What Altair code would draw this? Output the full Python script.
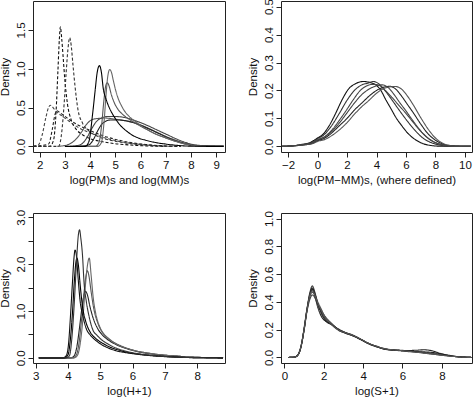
import altair as alt
import pandas as pd

FONT = "Liberation Sans"

# ---------------- Panel 1: log(PM)s (solid) and log(MM)s (dashed) ----------------
mm1_x = [1.75, 2.4, 2.55, 2.65, 2.72, 2.78, 2.82, 2.87, 2.93, 3.0, 3.1, 3.25, 3.45, 3.7, 4.0, 4.5, 5.0, 5.6, 6.3, 7.0]
mm1_y = [0, 0.0, 0.08, 0.45, 0.95, 1.38, 1.54, 1.40, 1.15, 0.85, 0.55, 0.34, 0.22, 0.15, 0.10, 0.06, 0.035, 0.018, 0.006, 0]
mm2_x = [1.75, 2.75, 2.88, 2.97, 3.05, 3.12, 3.19, 3.25, 3.32, 3.4, 3.52, 3.7, 3.95, 4.3, 4.8, 5.4, 6.0, 6.8, 7.5]
mm2_y = [0, 0.0, 0.2, 0.55, 0.95, 1.25, 1.40, 1.30, 1.05, 0.78, 0.47, 0.30, 0.20, 0.13, 0.08, 0.045, 0.022, 0.006, 0]
mm3_x = [1.75, 1.95, 2.1, 2.25, 2.35, 2.42, 2.5, 2.65, 2.85, 3.1, 3.4, 3.8, 4.3, 4.8, 5.4, 6.0, 6.7, 7.3]
mm3_y = [0, 0.02, 0.15, 0.38, 0.50, 0.53, 0.51, 0.45, 0.40, 0.34, 0.27, 0.2, 0.14, 0.09, 0.05, 0.025, 0.008, 0]
mm4_x = [1.75, 2.35, 2.5, 2.6, 2.68, 2.78, 2.95, 3.2, 3.5, 3.9, 4.4, 4.9, 5.5, 6.2, 7.0, 7.6]
mm4_y = [0, 0.03, 0.22, 0.40, 0.46, 0.44, 0.40, 0.34, 0.28, 0.22, 0.15, 0.1, 0.055, 0.025, 0.006, 0]

pm1_x = [3.0, 3.8, 3.95, 4.1, 4.2, 4.28, 4.37, 4.45, 4.52, 4.62, 4.72, 4.85, 5.0, 5.2, 5.4, 5.65, 5.9, 6.2, 6.6, 7.0, 7.5, 8.0, 9.3]
pm1_y = [0, 0, 0.06, 0.42, 0.72, 0.95, 1.04, 0.95, 0.75, 0.62, 0.53, 0.44, 0.36, 0.27, 0.21, 0.15, 0.11, 0.08, 0.05, 0.03, 0.012, 0.003, 0]
pm2_x = [3.5, 4.3, 4.45, 4.55, 4.63, 4.7, 4.78, 4.85, 4.92, 5.0, 5.1, 5.25, 5.4, 5.6, 5.8, 6.05, 6.3, 6.6, 7.0, 7.4, 7.8, 8.3, 9.3]
pm2_y = [0, 0, 0.05, 0.3, 0.65, 0.9, 0.99, 0.95, 0.85, 0.74, 0.63, 0.52, 0.44, 0.37, 0.32, 0.26, 0.21, 0.16, 0.11, 0.065, 0.03, 0.008, 0]
pm3_x = [3.5, 4.2, 4.35, 4.45, 4.55, 4.62, 4.68, 4.75, 4.84, 4.95, 5.1, 5.3, 5.5, 5.75, 6.0, 6.3, 6.6, 7.0, 7.4, 7.8, 8.2, 9.3]
pm3_y = [0, 0, 0.05, 0.25, 0.6, 0.78, 0.82, 0.78, 0.67, 0.57, 0.48, 0.41, 0.36, 0.31, 0.26, 0.21, 0.16, 0.11, 0.065, 0.03, 0.01, 0]
pm4_x = [2.7, 3.1, 3.4, 3.65, 3.85, 4.05, 4.3, 4.6, 5.0, 5.4, 5.8, 6.2, 6.6, 7.0, 7.4, 7.8, 8.2, 8.6, 9.3]
pm4_y = [0, 0.02, 0.08, 0.18, 0.28, 0.34, 0.36, 0.365, 0.35, 0.33, 0.3, 0.25, 0.19, 0.13, 0.08, 0.04, 0.015, 0.004, 0]
pm5_x = [3.2, 3.6, 3.85, 4.05, 4.25, 4.45, 4.7, 5.0, 5.4, 5.8, 6.2, 6.6, 7.0, 7.4, 7.8, 8.2, 9.3]
pm5_y = [0, 0.02, 0.1, 0.22, 0.32, 0.365, 0.385, 0.385, 0.37, 0.33, 0.28, 0.22, 0.16, 0.1, 0.05, 0.017, 0]
pm6_x = [3.6, 3.95, 4.15, 4.3, 4.45, 4.6, 4.8, 5.1, 5.5, 5.9, 6.3, 6.7, 7.1, 7.5, 7.9, 8.3, 9.3]
pm6_y = [0, 0.02, 0.1, 0.2, 0.28, 0.32, 0.34, 0.34, 0.325, 0.285, 0.23, 0.17, 0.11, 0.06, 0.025, 0.007, 0]

# ---------------- Panel 2: log(PM-MM)s ----------------
d_a_x = [-2.4, -2, -1.2, -0.5, 0, 0.3, 0.8, 1.2, 1.6, 2.1, 2.6, 3.1, 3.6, 3.95, 4.3, 4.6, 5.0, 5.3, 5.7, 6.2, 6.7, 7.1, 7.6, 8.2, 10.4]
d_a_y = [0, 0.001, 0.006, 0.014, 0.03, 0.04, 0.075, 0.115, 0.16, 0.205, 0.225, 0.232, 0.228, 0.22, 0.2, 0.17, 0.133, 0.105, 0.075, 0.043, 0.022, 0.011, 0.004, 0.001, 0]
d_b_x = [-2.4, -2, -1, -0.3, 0, 0.4, 0.9, 1.5, 2.0, 2.5, 3.0, 3.4, 3.8, 4.2, 4.6, 5.0, 5.4, 5.7, 6.1, 6.6, 7.1, 7.6, 8.2, 8.8, 10.4]
d_b_y = [0, 0.001, 0.007, 0.016, 0.028, 0.04, 0.07, 0.12, 0.165, 0.2, 0.22, 0.226, 0.232, 0.222, 0.198, 0.17, 0.14, 0.118, 0.09, 0.058, 0.032, 0.016, 0.006, 0.001, 0]
d_c_x = [-2.4, -2, -1, -0.3, 0, 0.5, 1.0, 1.5, 1.9, 2.4, 2.9, 3.4, 3.8, 4.2, 4.6, 5.0, 5.5, 6.0, 6.4, 6.9, 7.4, 7.9, 8.5, 9.1, 10.4]
d_c_y = [0, 0.001, 0.006, 0.013, 0.022, 0.035, 0.06, 0.095, 0.125, 0.165, 0.2, 0.218, 0.222, 0.218, 0.2, 0.178, 0.148, 0.118, 0.092, 0.06, 0.033, 0.016, 0.006, 0.001, 0]
d_d_x = [-2.4, -2, -1, -0.3, 0, 0.5, 1.0, 1.5, 2.0, 2.5, 3.0, 3.5, 4.0, 4.5, 4.9, 5.3, 5.7, 6.1, 6.5, 7.0, 7.5, 8.0, 8.6, 9.2, 10.4]
d_d_y = [0, 0.001, 0.005, 0.012, 0.02, 0.03, 0.05, 0.075, 0.1, 0.13, 0.155, 0.18, 0.2, 0.212, 0.215, 0.205, 0.18, 0.15, 0.12, 0.08, 0.045, 0.022, 0.007, 0.002, 0]
d_e_x = [-2.4, -2, -1, -0.3, 0, 0.5, 1.0, 1.5, 2.0, 2.5, 3.0, 3.5, 4.0, 4.5, 4.9, 5.3, 5.7, 6.1, 6.5, 7.0, 7.5, 8.0, 8.5, 9.0, 9.5, 10.4]
d_e_y = [0, 0.001, 0.005, 0.011, 0.018, 0.025, 0.04, 0.06, 0.085, 0.115, 0.142, 0.165, 0.19, 0.207, 0.213, 0.214, 0.205, 0.18, 0.148, 0.103, 0.062, 0.03, 0.011, 0.003, 0.0005, 0]
d_f_x = [-2.4, -2, -1, -0.3, 0, 0.5, 1.0, 1.5, 2.0, 2.5, 3.0, 3.5, 3.9, 4.4, 4.8, 5.2, 5.6, 6.0, 6.4, 6.9, 7.4, 7.9, 8.5, 9.1, 10.4]
d_f_y = [0, 0.001, 0.006, 0.013, 0.024, 0.035, 0.055, 0.085, 0.12, 0.155, 0.185, 0.205, 0.215, 0.22, 0.21, 0.185, 0.155, 0.127, 0.097, 0.062, 0.034, 0.016, 0.005, 0.001, 0]

# ---------------- Panel 3: log(H+1) ----------------
h1_x = [3.1, 3.95, 4.05, 4.12, 4.2, 4.27, 4.32, 4.36, 4.4, 4.45, 4.5, 4.57, 4.65, 4.77, 4.9, 5.05, 5.25, 5.45, 5.7, 6.0, 6.3, 6.7, 7.1, 7.6, 8.1, 8.8]
h1_y = [0, 0, 0.05, 0.4, 1.2, 2.1, 2.6, 2.73, 2.55, 2.2, 1.6, 1.2, 0.9, 0.6, 0.48, 0.38, 0.29, 0.22, 0.16, 0.11, 0.075, 0.045, 0.025, 0.01, 0.003, 0]
h2_x = [3.1, 3.85, 3.95, 4.02, 4.08, 4.14, 4.19, 4.22, 4.26, 4.31, 4.38, 4.46, 4.57, 4.7, 4.83, 5.0, 5.25, 5.5, 5.8, 6.1, 6.5, 6.9, 7.4, 7.9, 8.8]
h2_y = [0, 0, 0.05, 0.3, 0.9, 1.6, 2.15, 2.3, 2.2, 1.75, 1.2, 0.9, 0.62, 0.48, 0.39, 0.3, 0.21, 0.15, 0.11, 0.08, 0.05, 0.03, 0.013, 0.004, 0]
h3_x = [3.1, 3.9, 4.0, 4.07, 4.14, 4.2, 4.25, 4.28, 4.32, 4.38, 4.45, 4.55, 4.68, 4.85, 5.05, 5.3, 5.6, 5.9, 6.2, 6.6, 7.0, 7.5, 8.0, 8.8]
h3_y = [0, 0, 0.06, 0.35, 0.95, 1.65, 2.05, 2.13, 2.0, 1.55, 1.1, 0.78, 0.56, 0.42, 0.32, 0.23, 0.16, 0.11, 0.08, 0.05, 0.03, 0.012, 0.004, 0]
h4_x = [3.1, 4.2, 4.3, 4.38, 4.46, 4.53, 4.6, 4.66, 4.72, 4.78, 4.86, 4.98, 5.1, 5.25, 5.45, 5.75, 6.1, 6.5, 6.9, 7.3, 7.8, 8.3, 8.8]
h4_y = [0, 0, 0.06, 0.3, 0.8, 1.45, 1.95, 2.13, 1.75, 1.3, 0.95, 0.67, 0.52, 0.42, 0.31, 0.22, 0.15, 0.1, 0.065, 0.04, 0.018, 0.005, 0]
h5_x = [3.1, 4.15, 4.26, 4.34, 4.42, 4.5, 4.56, 4.6, 4.65, 4.72, 4.8, 4.92, 5.05, 5.2, 5.4, 5.7, 6.0, 6.4, 6.8, 7.2, 7.7, 8.2, 8.8]
h5_y = [0, 0, 0.06, 0.3, 0.8, 1.4, 1.75, 1.86, 1.75, 1.4, 1.05, 0.75, 0.56, 0.44, 0.34, 0.24, 0.17, 0.11, 0.07, 0.045, 0.02, 0.006, 0]
h6_x = [3.1, 4.1, 4.2, 4.28, 4.36, 4.44, 4.5, 4.54, 4.6, 4.68, 4.78, 4.9, 5.05, 5.25, 5.5, 5.8, 6.1, 6.5, 6.9, 7.3, 7.8, 8.3, 8.8]
h6_y = [0, 0, 0.05, 0.25, 0.65, 1.1, 1.35, 1.42, 1.35, 1.1, 0.85, 0.65, 0.5, 0.38, 0.28, 0.2, 0.14, 0.09, 0.06, 0.04, 0.018, 0.005, 0]

# ---------------- Panel 4: log(S+1) ----------------
s_x = [0.2, 0.5, 0.7, 0.85, 1.0, 1.15, 1.3, 1.42, 1.55, 1.7, 1.9, 2.1, 2.4, 2.75, 3.1, 3.5, 3.9, 4.3, 4.7, 5.1, 5.5, 5.9, 6.3, 6.7, 7.1, 7.5, 7.9, 8.3, 8.7, 9.1, 9.5]
s1_y = [0, 0.002, 0.02, 0.08, 0.2, 0.35, 0.47, 0.515, 0.47, 0.39, 0.33, 0.29, 0.245, 0.2, 0.18, 0.16, 0.13, 0.1, 0.08, 0.062, 0.055, 0.052, 0.047, 0.041, 0.034, 0.027, 0.02, 0.013, 0.007, 0.003, 0]
s2_y = [0, 0.002, 0.02, 0.08, 0.2, 0.34, 0.45, 0.49, 0.44, 0.36, 0.29, 0.26, 0.235, 0.205, 0.18, 0.158, 0.128, 0.1, 0.078, 0.06, 0.052, 0.05, 0.05, 0.052, 0.055, 0.048, 0.03, 0.015, 0.006, 0.002, 0]
s3_y = [0, 0.002, 0.022, 0.085, 0.21, 0.35, 0.44, 0.47, 0.45, 0.4, 0.34, 0.28, 0.235, 0.195, 0.175, 0.155, 0.13, 0.1, 0.08, 0.063, 0.056, 0.05, 0.045, 0.04, 0.034, 0.028, 0.02, 0.013, 0.007, 0.003, 0]
s4_y = [0, 0.002, 0.02, 0.08, 0.19, 0.33, 0.42, 0.45, 0.43, 0.38, 0.32, 0.275, 0.24, 0.2, 0.178, 0.155, 0.128, 0.098, 0.077, 0.06, 0.053, 0.048, 0.042, 0.038, 0.032, 0.025, 0.018, 0.012, 0.006, 0.002, 0]
s5_y = [0, 0.002, 0.02, 0.08, 0.2, 0.345, 0.46, 0.5, 0.46, 0.385, 0.31, 0.265, 0.24, 0.2, 0.175, 0.155, 0.127, 0.097, 0.076, 0.06, 0.054, 0.05, 0.046, 0.042, 0.04, 0.036, 0.027, 0.017, 0.008, 0.003, 0]
s6_y = [0, 0.002, 0.02, 0.082, 0.2, 0.34, 0.45, 0.48, 0.45, 0.39, 0.335, 0.285, 0.24, 0.198, 0.178, 0.158, 0.13, 0.1, 0.079, 0.062, 0.055, 0.05, 0.044, 0.038, 0.031, 0.024, 0.017, 0.011, 0.006, 0.002, 0]

# (id, x, y, dash, colour)
panel1 = [
    ("mm1", mm1_x, mm1_y, "dashed", "#111111"), ("mm2", mm2_x, mm2_y, "dashed", "#333333"),
    ("mm3", mm3_x, mm3_y, "dashed", "#444444"), ("mm4", mm4_x, mm4_y, "dashed", "#222222"),
    ("pm4", pm4_x, pm4_y, "solid", "#555555"), ("pm5", pm5_x, pm5_y, "solid", "#444444"),
    ("pm6", pm6_x, pm6_y, "solid", "#222222"), ("pm3", pm3_x, pm3_y, "solid", "#555555"),
    ("pm2", pm2_x, pm2_y, "solid", "#666666"), ("pm1", pm1_x, pm1_y, "solid", "#000000"),
]
panel2 = [
    ("a", d_a_x, d_a_y, "solid", "#000000"), ("b", d_b_x, d_b_y, "solid", "#333333"),
    ("c", d_c_x, d_c_y, "solid", "#444444"), ("d", d_d_x, d_d_y, "solid", "#222222"),
    ("e", d_e_x, d_e_y, "solid", "#333333"), ("f", d_f_x, d_f_y, "solid", "#555555"),
]
panel3 = [
    ("h6", h6_x, h6_y, "solid", "#555555"), ("h5", h5_x, h5_y, "solid", "#444444"),
    ("h4", h4_x, h4_y, "solid", "#666666"), ("h3", h3_x, h3_y, "solid", "#222222"),
    ("h2", h2_x, h2_y, "solid", "#111111"), ("h1", h1_x, h1_y, "solid", "#333333"),
]
panel4 = [
    ("s1", s_x, s1_y, "solid", "#222222"), ("s2", s_x, s2_y, "solid", "#444444"),
    ("s3", s_x, s3_y, "solid", "#333333"), ("s4", s_x, s4_y, "solid", "#555555"),
    ("s5", s_x, s5_y, "solid", "#111111"), ("s6", s_x, s6_y, "solid", "#000000"),
]


def frame(curves):
    rows = []
    for cid, xs, ys, dash, col in curves:
        for i, (xv, yv) in enumerate(zip(xs, ys)):
            rows.append({"id": cid, "x": xv, "y": yv, "dash": dash, "i": i})
    return pd.DataFrame(rows)


def panel(curves, xdom, ydom, xticks, yticks, xtitle, w, h, ylabel_expr=None, xfmt="d"):
    df = frame(curves)
    ids = [c[0] for c in curves]
    cols = [c[4] for c in curves]
    yaxis_kw = dict(values=yticks, title="Density", format=".1f", labelAngle=-90,
                    labelAlign="center", labelBaseline="bottom", labelPadding=2,
                    titlePadding=5)
    if ylabel_expr:
        yaxis_kw["labelExpr"] = ylabel_expr
    return alt.Chart(df).mark_line(strokeWidth=1.1, interpolate="monotone", clip=True).encode(
        x=alt.X("x:Q", scale=alt.Scale(domain=xdom, nice=False, zero=False),
                axis=alt.Axis(values=xticks, title=xtitle, format=xfmt, labelPadding=2,
                              titlePadding=4)),
        y=alt.Y("y:Q", scale=alt.Scale(domain=ydom, nice=False, zero=False),
                axis=alt.Axis(**yaxis_kw)),
        order="i:Q",
        detail="id:N",
        color=alt.Color("id:N", scale=alt.Scale(domain=ids, range=cols), legend=None),
        strokeDash=alt.StrokeDash("dash:N", scale=alt.Scale(domain=["solid", "dashed"],
                                  range=[[1, 0], [3, 2]]), legend=None),
    ).properties(width=w, height=h)


p1 = panel(panel1, [1.734, 9.353], [-0.072, 1.872], [2, 3, 4, 5, 6, 7, 8, 9],
           [0, 0.5, 1.0, 1.5], "log(PM)s and log(MM)s", 192, 151)
p2 = panel(panel2, [-2.48, 10.48], [-0.02, 0.52], [-2, 0, 2, 4, 6, 8, 10],
           [0, 0.1, 0.2, 0.3, 0.4, 0.5], "log(PM\u2212MM)s, (where defined)", 191, 151)
p3 = panel(panel3, [2.92, 8.86], [-0.11, 3.09], [3, 4, 5, 6, 7, 8],
           [0, 0.5, 1.0, 1.5, 2.0, 2.5, 3.0], "log(H+1)", 192, 150,
           ylabel_expr="datum.value % 1 == 0 ? format(datum.value, '.1f') : ''")
p4 = panel(panel4, [-0.17, 9.53], [-0.04, 1.04], [0, 2, 4, 6, 8],
           [0, 0.2, 0.4, 0.6, 0.8, 1.0], "log(S+1)", 191, 150)

chart = alt.concat(p1, p2, p3, p4, columns=2,
                   spacing=alt.RowColnumber(row=61, column=56),
                   bounds="flush").properties(
    padding={"left": -2, "top": -2, "right": 0, "bottom": 0},
    autosize=alt.AutoSizeParams(type="pad"),
    background="white",
).configure_view(
    stroke="#222222", strokeWidth=1,
).configure_axis(
    domain=False, grid=False, tickSize=5, tickColor="#222222", tickWidth=1,
    labelFont=FONT, labelFontSize=11.5, labelColor="#111111",
    titleFont=FONT, titleFontSize=11.5, titleFontWeight="normal", titleColor="#111111",
)

chart.save("out.html", embed_options={"renderer": "svg", "actions": False})
